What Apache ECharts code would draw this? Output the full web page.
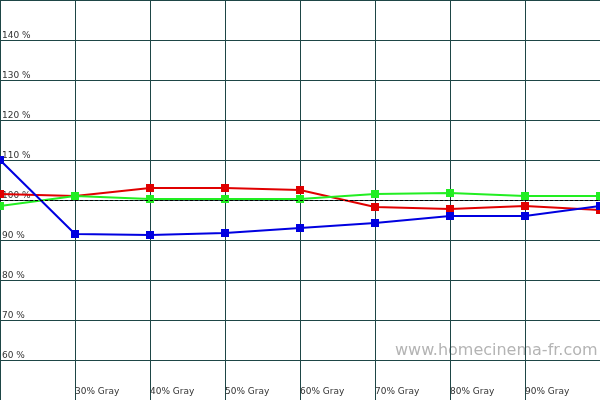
<!DOCTYPE html>
<html><head><meta charset="utf-8">
<script src="https://cdn.jsdelivr.net/npm/echarts@6/dist/echarts.min.js"></script>
<style>html,body{margin:0;padding:0;background:#fff}#c{width:600px;height:400px}</style>
</head><body><div id="c"></div>
<script>
const categories = ["20% Gray","30% Gray","40% Gray","50% Gray","60% Gray","70% Gray","80% Gray","90% Gray","100% Gray"];
const xLabels = ["","30% Gray","40% Gray","50% Gray","60% Gray","70% Gray","80% Gray","90% Gray",""];
const blue = [110, 91.5, 91.25, 91.75, 93, 94.25, 96, 96, 98.5];
const red = [101.5, 101, 103, 103, 102.5, 98.25, 97.75, 98.5, 97.5];
const green = [98.5, 101, 100.25, 100.25, 100.25, 101.5, 101.75, 101, 101];
const gridColor = '#1e4646';
const chart = echarts.init(document.getElementById('c'));
function s(data, color, extra){
  return Object.assign({type:'line', data, symbol:'rect', symbolSize:8, showSymbol:true,
    itemStyle:{color}, lineStyle:{color, width:2}, animation:false, z:3}, extra||{});
}
chart.setOption({
  animation:false,
  grid:{left:0,right:0,top:0,bottom:0, containLabel:false, outerBoundsMode:'none'},
  xAxis:{type:'category', data:categories, boundaryGap:false,
    axisLine:{show:false}, axisTick:{show:false},
    axisLabel:{inside:true, interval:0, align:'left', margin:4, color:'#333', fontSize:9, fontFamily:'DejaVu Sans',
      formatter:(v,i)=>xLabels[i]},
    splitLine:{show:true, lineStyle:{color:gridColor, width:1}}},
  yAxis:{type:'value', min:50, max:150, interval:10,
    axisLine:{show:false}, axisTick:{show:false},
    axisLabel:{inside:true, showMinLabel:false, showMaxLabel:false, align:'left', verticalAlign:'bottom',
      margin:2, color:'#333', fontSize:9, fontFamily:'DejaVu Sans', formatter:'{value} %'},
    splitLine:{show:true, lineStyle:{color:gridColor, width:1}}},
  graphic:[{type:'text', left:395, top:343, style:{text:'www.homecinema-fr.com', fill:'#b4b4b4', font:'16px "DejaVu Sans"'}}],
  series:[
    s(red,'#e00000',{markLine:{silent:true, symbol:'none', label:{show:false},
      lineStyle:{color:'#000', type:[3,2], width:1}, data:[{yAxis:100}]}}),
    s(green,'#22ee22'),
    s(blue,'#0000e0')
  ]
});
</script></body></html>
